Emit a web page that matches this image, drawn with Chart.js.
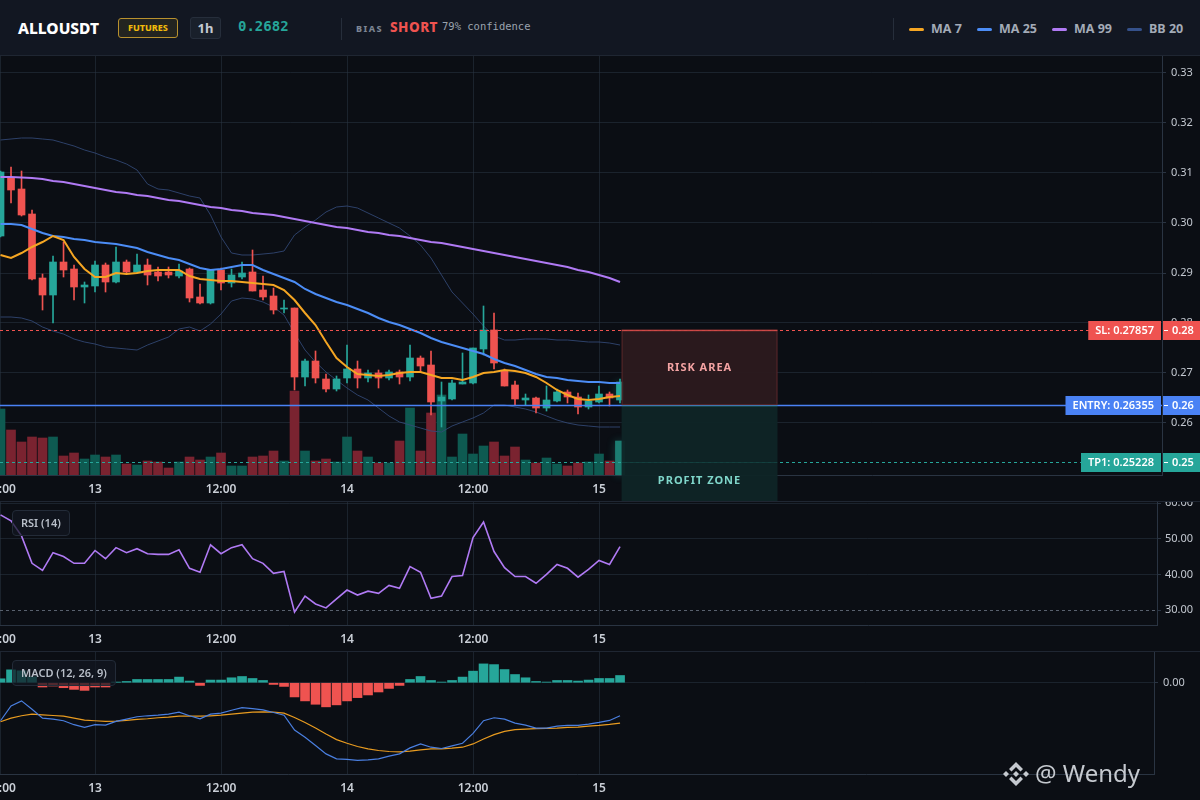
<!DOCTYPE html>
<html>
<head>
<meta charset="utf-8">
<title>ALLOUSDT 1h</title>
<script src="https://cdn.jsdelivr.net/npm/chart.js@4.4.1/dist/chart.umd.min.js"></script>
<style>
  html, body { margin: 0; padding: 0; background: #0b0e14; }
  body { width: 1200px; height: 800px; position: relative; overflow: hidden; font-family: 'Noto Sans', 'Open Sans', sans-serif; }
  #header { position: absolute; left: 0; top: 0; width: 1200px; height: 55px; background: #121722; border-bottom: 1px solid #1f2632; }
  .hi { position: absolute; white-space: nowrap; }
  .pane { position: absolute; left: 0; width: 1200px; }
  .pane canvas { display: block; }
  .sep { border-top: 1px solid #1f2632; }
  .tag { position: absolute; left: 12px; height: 24px; line-height: 24px; padding: 0 8px; font-size: 11px; font-weight: 600; color: #b9bfc9; background: rgba(18, 23, 33, 0.72); border: 1px solid #232b38; border-radius: 4px; }
  .sw { display: inline-block; width: 15px; height: 3px; border-radius: 2px; vertical-align: middle; margin-right: 7px; }
  .lg { position: absolute; top: 20px; font-size: 12.5px; font-weight: 700; color: #a3abb7; }
</style>
</head>
<body>
<div id="header">
  <div class="hi" style="left:18px;top:17px;font-size:15.5px;font-weight:800;color:#fff;">ALLOUSDT</div>
  <div class="hi" style="left:118px;top:18px;width:58px;height:18px;line-height:18px;text-align:center;border:1px solid #b8912e;border-radius:3px;background:rgba(240,185,11,0.08);color:#f0b90b;font-size:9px;font-weight:800;">FUTURES</div>
  <div class="hi" style="left:190px;top:17px;width:29px;height:20px;line-height:20px;text-align:center;border:1px solid #262e3b;border-radius:3px;background:#19202b;color:#c3c9d2;font-size:13px;font-weight:700;">1h</div>
  <div class="hi" style="left:238px;top:18px;font-family:'DejaVu Sans Mono',monospace;font-size:14px;font-weight:700;color:#26a69a;">0.2682</div>
  <div class="hi" style="left:341px;top:18px;width:1px;height:22px;background:#262e3b;"></div>
  <div class="hi" style="left:356px;top:22px;font-size:9px;font-weight:800;letter-spacing:1.5px;color:#7c8593;">BIAS</div>
  <div class="hi" style="left:390px;top:18px;font-size:13.5px;font-weight:800;letter-spacing:0.5px;color:#ef5350;">SHORT</div>
  <div class="hi" style="left:442px;top:20px;font-family:'DejaVu Sans Mono',monospace;font-size:10.5px;color:#9aa3ae;">79% confidence</div>

  <div class="hi" style="left:893px;top:18px;width:1px;height:22px;background:#262e3b;"></div>
  <div class="lg" style="left:909px;"><span class="sw" style="background:#f5a623"></span>MA 7</div>
  <div class="lg" style="left:977px;"><span class="sw" style="background:#4c8df6"></span>MA 25</div>
  <div class="lg" style="left:1052px;"><span class="sw" style="background:#b07af4"></span>MA 99</div>
  <div class="lg" style="left:1127px;"><span class="sw" style="background:#35518a"></span>BB 20</div>
</div>

<div class="pane" style="top:56px;height:445px;"><canvas id="mainChart" width="1200" height="445"></canvas></div>
<div class="pane sep" style="top:501px;height:149px;"><canvas id="rsiChart" width="1200" height="149"></canvas>
  <div class="tag" style="top:8px;">RSI (14)</div>
</div>
<div class="pane sep" style="top:651px;height:149px;"><canvas id="macdChart" width="1200" height="148"></canvas>
  <div class="tag" style="top:8px;">MACD (12, 26, 9)</div>
</div>

<svg style="position:absolute;left:1001px;top:759px;" width="30" height="30" viewBox="0 0 30 30">
  <g fill="#c5c9cf">
    <path d="M15 3 L22 10 L19.5 12.5 L15 8 L10.5 12.5 L8 10 Z"/>
    <path d="M15 27 L22 20 L19.5 17.5 L15 22 L10.5 17.5 L8 20 Z"/>
    <path d="M5 12 L8 15 L5 18 L2 15 Z"/>
    <path d="M25 12 L28 15 L25 18 L22 15 Z"/>
    <path d="M15 12 L18 15 L15 18 L12 15 Z"/>
  </g>
</svg>
<div style="position:absolute;left:1035px;top:756px;font-size:24px;line-height:34px;color:#c5c9cf;">@ Wendy</div>

<script>
// ---- data (hourly candles, index 0..59) ----
const OPEN  = [0.2974, 0.309, 0.3068, 0.3018, 0.289, 0.2856, 0.2922, 0.2908, 0.2872, 0.2874,
               0.2916, 0.2882, 0.2922, 0.2902, 0.2916, 0.2902, 0.2902, 0.2894, 0.2908, 0.2852,
               0.284, 0.2906, 0.288, 0.2892, 0.2902, 0.2866, 0.2854, 0.2828, 0.283, 0.2692,
               0.2724, 0.2688, 0.2668, 0.269, 0.2708, 0.269, 0.27, 0.269, 0.2702, 0.2692,
               0.273, 0.2716, 0.2644, 0.2648, 0.2678, 0.268, 0.2748, 0.2786, 0.2704, 0.2676,
               0.2646, 0.265, 0.263, 0.2644, 0.2662, 0.2652, 0.2632, 0.2642, 0.2658, 0.2646];
const HIGH  = [0.3104, 0.3112, 0.3104, 0.3026, 0.2898, 0.2934, 0.2962, 0.2916, 0.2882, 0.2924,
               0.292, 0.2952, 0.2926, 0.2938, 0.2928, 0.2912, 0.2912, 0.2918, 0.291, 0.2878,
               0.2906, 0.291, 0.2908, 0.2922, 0.2946, 0.2894, 0.287, 0.2846, 0.283, 0.2728,
               0.2744, 0.2698, 0.2694, 0.2756, 0.2724, 0.2706, 0.2706, 0.2706, 0.2706, 0.2756,
               0.2734, 0.2744, 0.2682, 0.2686, 0.274, 0.275, 0.2834, 0.282, 0.2708, 0.2684,
               0.2658, 0.2652, 0.2674, 0.2668, 0.2666, 0.266, 0.2656, 0.2674, 0.2662, 0.2688];
const LOW   = [0.2972, 0.304, 0.3014, 0.2886, 0.2826, 0.28, 0.2892, 0.2846, 0.284, 0.2862,
               0.2862, 0.288, 0.29, 0.29, 0.2876, 0.2884, 0.289, 0.289, 0.2842, 0.2838,
               0.2838, 0.2866, 0.2872, 0.2888, 0.2864, 0.2846, 0.2818, 0.282, 0.2666, 0.2674,
               0.268, 0.2662, 0.2664, 0.268, 0.267, 0.2682, 0.267, 0.2686, 0.2678, 0.2684,
               0.2702, 0.2616, 0.2592, 0.2646, 0.2678, 0.2678, 0.2736, 0.2708, 0.2674, 0.2636,
               0.2636, 0.262, 0.2624, 0.2642, 0.264, 0.2618, 0.2628, 0.264, 0.2634, 0.264];
const CLOSE = [0.3102, 0.3066, 0.3016, 0.2888, 0.2856, 0.2922, 0.2906, 0.2872, 0.2876, 0.2916,
               0.2882, 0.2922, 0.2902, 0.2916, 0.2896, 0.2894, 0.2896, 0.2904, 0.285, 0.284,
               0.2906, 0.288, 0.2896, 0.29, 0.2864, 0.2852, 0.2826, 0.283, 0.2692, 0.2724,
               0.269, 0.2668, 0.2688, 0.2708, 0.269, 0.27, 0.269, 0.2702, 0.2692, 0.273,
               0.2714, 0.2642, 0.2652, 0.268, 0.2682, 0.275, 0.2786, 0.272, 0.2674, 0.2648,
               0.265, 0.263, 0.2646, 0.2662, 0.2652, 0.2632, 0.2644, 0.2658, 0.265, 0.2682];
const VOLUME = [66, 45, 33, 38, 37, 38, 19, 22, 16, 20, 18, 20, 11, 10, 14, 13, 7, 13, 18, 15,
                18, 22, 9, 9, 18, 19, 24, 14, 84, 24, 14, 16, 13, 38, 24, 18, 12, 12, 34, 67,
                24, 62, 80, 18, 41, 21, 29, 33, 19, 28, 15, 12, 17, 11, 9, 12, 13, 21, 14, 34];

const MA7  = [0.2936, 0.293, 0.294, 0.2952, 0.2962, 0.2974, 0.2966, 0.2932, 0.2908, 0.2892,
              0.2892, 0.29, 0.2898, 0.29, 0.2904, 0.2906, 0.2906, 0.2906, 0.2894, 0.2888,
              0.2886, 0.2884, 0.2884, 0.2882, 0.288, 0.2878, 0.2876, 0.2866, 0.2846, 0.282,
              0.2796, 0.2762, 0.273, 0.2712, 0.2698, 0.2696, 0.2694, 0.2696, 0.27, 0.2702,
              0.2702, 0.2696, 0.269, 0.269, 0.2686, 0.2692, 0.27, 0.2702, 0.2706, 0.2704,
              0.27, 0.2692, 0.268, 0.2666, 0.2656, 0.2648, 0.2646, 0.2648, 0.2652, 0.2654];
const MA25 = [0.2998, 0.2998, 0.2996, 0.2988, 0.298, 0.2974, 0.2972, 0.2968, 0.2966, 0.2962,
              0.296, 0.2958, 0.2954, 0.295, 0.2942, 0.2936, 0.293, 0.2926, 0.2918, 0.291,
              0.2906, 0.2908, 0.2912, 0.2916, 0.2916, 0.2906, 0.2898, 0.289, 0.2882, 0.2868,
              0.2858, 0.285, 0.2842, 0.2836, 0.2828, 0.282, 0.281, 0.2802, 0.2796, 0.2788,
              0.278, 0.277, 0.2762, 0.2756, 0.275, 0.2744, 0.2738, 0.2728, 0.272, 0.2714,
              0.2706, 0.2698, 0.2692, 0.269, 0.2686, 0.2684, 0.2682, 0.2682, 0.268, 0.268];
const MA99 = [0.3092, 0.3092, 0.3091, 0.309, 0.3088, 0.3084, 0.3082, 0.3078, 0.3074, 0.307,
              0.3066, 0.3062, 0.306, 0.3056, 0.3054, 0.305, 0.3046, 0.3044, 0.304, 0.3036,
              0.3032, 0.303, 0.3026, 0.3024, 0.302, 0.3018, 0.3016, 0.3012, 0.3008, 0.3004,
              0.30, 0.2996, 0.2992, 0.299, 0.2986, 0.2982, 0.298, 0.2976, 0.2974, 0.297,
              0.2966, 0.2962, 0.296, 0.2956, 0.2952, 0.2948, 0.2944, 0.294, 0.2936, 0.2932,
              0.2928, 0.2924, 0.292, 0.2916, 0.2912, 0.2906, 0.2902, 0.2896, 0.289, 0.2882];
const BB_UPPER = [0.3166, 0.3168, 0.317, 0.317, 0.3168, 0.3166, 0.316, 0.3154, 0.3146, 0.314,
                  0.3132, 0.3126, 0.3118, 0.3106, 0.3078, 0.3068, 0.3066, 0.306, 0.3054, 0.305,
                  0.3016, 0.2972, 0.294, 0.2936, 0.2936, 0.2938, 0.294, 0.2944, 0.2976, 0.2992,
                  0.3006, 0.3022, 0.3032, 0.3034, 0.303, 0.302, 0.301, 0.30, 0.299, 0.2974,
                  0.2956, 0.293, 0.2896, 0.2862, 0.284, 0.2818, 0.2794, 0.2774, 0.2766, 0.2766,
                  0.2768, 0.2768, 0.2768, 0.2766, 0.2766, 0.2764, 0.2762, 0.2762, 0.276, 0.2756];
const BB_LOWER = [0.2812, 0.2812, 0.281, 0.2804, 0.2792, 0.2784, 0.2778, 0.2768, 0.2762, 0.2758,
                  0.2752, 0.275, 0.2748, 0.2746, 0.2756, 0.2764, 0.2772, 0.2788, 0.2792, 0.2784,
                  0.2798, 0.2818, 0.2844, 0.285, 0.2848, 0.2842, 0.2832, 0.2816, 0.278, 0.2746,
                  0.2722, 0.2702, 0.2686, 0.267, 0.2656, 0.2646, 0.263, 0.2614, 0.2602, 0.2596,
                  0.259, 0.2584, 0.2582, 0.2594, 0.2602, 0.261, 0.262, 0.2636, 0.2636, 0.2632,
                  0.2628, 0.2622, 0.2614, 0.2606, 0.26, 0.2596, 0.2594, 0.2592, 0.2592, 0.2592];

const RSI = [56.7, 55, 50.8, 43.1, 41.1, 46.1, 45, 43.1, 43.1, 46.7,
             44.4, 47.5, 46.1, 47.2, 45.8, 45.6, 45.6, 46.9, 41.7, 40.6,
             48.3, 45.8, 47.5, 48.3, 44.4, 43.1, 40.3, 40.8, 29.4, 33.9,
             31.7, 30.6, 33.1, 35.6, 34.2, 35.3, 34.7, 36.9, 36.1, 42.2,
             40.6, 33.3, 33.9, 39.4, 39.7, 50.3, 54.7, 46.4, 41.9, 39.4,
             39.4, 37.5, 40, 42.8, 41.7, 39.2, 41.4, 43.9, 42.8, 47.8];

const MACD_HIST = [0.0004, 0.0013, 0.0012, 0.0006, -0.00043, -0.00033, -0.0005, -0.00067, -0.00077, -0.00043,
                   -0.00043, 0.00007, 0.00013, 0.00033, 0.00033, 0.00033, 0.00033, 0.00057, 0.00017, -0.00027,
                   0.00027, 0.00027, 0.0005, 0.00063, 0.00043, 0.00023, -0.00017, -0.00037, -0.00143, -0.00183,
                   -0.00217, -0.00243, -0.00223, -0.00183, -0.0015, -0.00123, -0.00093, -0.00057, -0.00027, 0.00033,
                   0.00063, 0.00023, 0.00007, 0.00023, 0.00057, 0.00117, 0.0019, 0.00183, 0.00133, 0.00083,
                   0.0005, 0.00013, 0.00007, 0.00023, 0.00023, 0.00017, 0.00027, 0.00043, 0.00043, 0.00073];
const MACD_LINE = [-0.00383, -0.00233, -0.00183, -0.00267, -0.00357, -0.00367, -0.00383, -0.00423, -0.0045, -0.00423,
                   -0.00427, -0.0039, -0.00367, -0.00343, -0.00333, -0.00327, -0.00317, -0.00297, -0.00333, -0.00363,
                   -0.00317, -0.00307, -0.00277, -0.0025, -0.0026, -0.00273, -0.003, -0.00327, -0.00477, -0.0055,
                   -0.00633, -0.00717, -0.00767, -0.00773, -0.00783, -0.00777, -0.00767, -0.0074, -0.00717, -0.00657,
                   -0.00617, -0.0065, -0.00663, -0.00637, -0.0061, -0.0051, -0.00383, -0.00353, -0.00367, -0.00407,
                   -0.00427, -0.00457, -0.00457, -0.00437, -0.0043, -0.0043, -0.00417, -0.004, -0.0038, -0.00333];
const MACD_SIGNAL = [-0.00393, -0.00357, -0.00333, -0.00317, -0.00323, -0.0033, -0.00337, -0.00357, -0.00377, -0.00383,
                     -0.0039, -0.00387, -0.0038, -0.0037, -0.00363, -0.00353, -0.00347, -0.00337, -0.00337, -0.00337,
                     -0.00333, -0.00327, -0.00317, -0.00307, -0.00297, -0.00293, -0.00297, -0.00307, -0.0035, -0.004,
                     -0.00457, -0.00517, -0.00573, -0.0061, -0.00643, -0.00667, -0.00683, -0.00693, -0.00697, -0.0069,
                     -0.00677, -0.00667, -0.00667, -0.0066, -0.0065, -0.00617, -0.00567, -0.00523, -0.0049, -0.00473,
                     -0.00467, -0.00463, -0.0046, -0.00457, -0.0045, -0.00447, -0.00437, -0.0043, -0.0042, -0.00407];

// time axis labels (candle index -> label)
const X_TICK_POS = [0, 9, 21, 33, 45, 57];
const X_TICK_LABELS = ['12:00', '13', '12:00', '14', '12:00', '15'];

// trade plan
const LEVELS = [
    { name: 'SL', price: 0.27857, color: '#ef5350', dash: [3, 3], width: 1 },
    { name: 'ENTRY', price: 0.26355, color: '#4a82f5', dash: [], width: 1.4 },
    { name: 'TP1', price: 0.25228, color: '#26a69a', dash: [3, 3], width: 1 }
];
const ZONE_START = 59.15;
const ZONE_END = 74;
const PROFIT_FLOOR = 0.2444;
const RSI_OVERSOLD = 30;

// ---- styling ----
const TEAL = '#26a69a';
const RED = '#ef5350';
const GRID = 'rgba(42, 52, 66, 0.55)';
const AXIS = '#2a3442';
const TICK_TXT = '#c3c8d0';
Chart.defaults.font.family = "'Noto Sans', 'Open Sans', sans-serif";

const idx = OPEN.map((_, i) => i);
const isUp = i => CLOSE[i] >= OPEN[i];
const lastIdx = idx.length - 1;

function xAxis(max) {
    return {
        type: 'linear', min: -0.05, max: max, offset: false,
        grid: { color: GRID, drawTicks: false, offset: false },
        border: { color: AXIS },
        afterBuildTicks: s => { s.ticks = X_TICK_POS.map(v => ({ value: v })); },
        afterFit: s => { s.height = 26; s.paddingLeft = 0; s.paddingRight = 0; },
        ticks: {
            autoSkip: false, maxRotation: 0, padding: 7,
            color: '#c9ced6', font: { size: 12, weight: '600' },
            callback: v => X_TICK_LABELS[X_TICK_POS.indexOf(v)] ?? ''
        }
    };
}

function yAxis(width, extra) {
    return Object.assign({
        position: 'right',
        grid: { color: GRID, tickColor: AXIS, tickLength: 4 },
        border: { color: AXIS },
        afterFit: s => { s.width = width; s.paddingTop = 0; s.paddingBottom = 0; },
        ticks: { includeBounds: false, padding: 4, color: TICK_TXT, font: { size: 11 } }
    }, extra);
}

const baseOptions = {
    responsive: false,
    animation: false,
    events: [],
    layout: { padding: 0 },
    plugins: { legend: { display: false }, tooltip: { enabled: false } }
};

function line(data, color, width, order) {
    return {
        type: 'line', data: idx.map(i => ({ x: i, y: data[i] })),
        borderColor: color, borderWidth: width, pointRadius: 0, tension: 0, order: order
    };
}

// soft glow behind the live (last) candle and its volume bar
const liveGlow = {
    id: 'liveGlow',
    beforeDatasetsDraw(chart) {
        const { ctx, scales: { x, y, yVol } } = chart;
        const px = x.getPixelForValue(lastIdx);
        ctx.save();
        ctx.shadowColor = 'rgba(38, 166, 154, 0.9)';
        ctx.shadowBlur = 8;
        ctx.fillStyle = 'rgba(38, 166, 154, 0.35)';
        const top = y.getPixelForValue(CLOSE[lastIdx]);
        const bot = y.getPixelForValue(OPEN[lastIdx]);
        ctx.fillRect(px - 4, top, 8, bot - top);
        const vTop = yVol.getPixelForValue(VOLUME[lastIdx]);
        ctx.fillRect(px - 5, vTop, 10, yVol.getPixelForValue(0) - vTop);
        ctx.restore();
    }
};

// ---- trade levels, zones and price tags on the main chart ----
const tradePlan = {
    id: 'tradePlan',
    afterDatasetsDraw(chart) {
        const { ctx, chartArea, scales: { x, y } } = chart;
        ctx.save();
        LEVELS.forEach(l => {
            const py = Math.round(y.getPixelForValue(l.price)) + 0.5;
            ctx.strokeStyle = l.color;
            ctx.lineWidth = l.width;
            ctx.setLineDash(l.dash);
            ctx.beginPath();
            ctx.moveTo(chartArea.left, py);
            ctx.lineTo(chartArea.right, py);
            ctx.stroke();
        });
        ctx.setLineDash([]);

        const x0 = x.getPixelForValue(ZONE_START);
        const x1 = x.getPixelForValue(ZONE_END);
        const ySL = y.getPixelForValue(LEVELS[0].price);
        const yEn = y.getPixelForValue(LEVELS[1].price);
        const yTp = y.getPixelForValue(LEVELS[2].price);
        const yFl = y.getPixelForValue(PROFIT_FLOOR);

        // risk area
        ctx.fillStyle = 'rgba(44, 26, 30, 0.96)';
        ctx.fillRect(x0, ySL, x1 - x0, yEn - ySL);
        ctx.strokeStyle = 'rgba(239, 83, 80, 0.25)';
        ctx.strokeRect(x0 + 0.5, ySL + 0.5, x1 - x0 - 1, yEn - ySL - 1);
        ctx.fillStyle = 'rgba(239, 83, 80, 0.75)';
        ctx.fillRect(x0, ySL - 0.5, x1 - x0, 1.5);

        // profit zone
        ctx.fillStyle = 'rgba(15, 36, 38, 0.96)';
        ctx.fillRect(x0, yEn + 1, x1 - x0, yFl - yEn);
        ctx.fillStyle = 'rgba(38, 166, 154, 0.35)';
        ctx.fillRect(x0, yEn, x1 - x0, 1.5);
        ctx.fillStyle = 'rgba(38, 166, 154, 0.18)';
        ctx.fillRect(x0, Math.round(yTp), x1 - x0, 1);

        ctx.font = "700 11px 'Noto Sans', sans-serif";
        ctx.letterSpacing = '1px';
        ctx.textAlign = 'center';
        ctx.textBaseline = 'middle';
        ctx.fillStyle = '#f4a3a3';
        ctx.fillText('RISK AREA', (x0 + x1) / 2, (ySL + yEn) / 2);
        ctx.fillStyle = '#7fd6ca';
        ctx.fillText('PROFIT ZONE', (x0 + x1) / 2, (yTp + yFl) / 2);
        ctx.restore();
    },
    afterDraw(chart) {
        const { ctx, chartArea, width, scales: { y } } = chart;
        ctx.save();
        ctx.font = "600 11px 'Noto Sans', sans-serif";
        ctx.textBaseline = 'middle';
        LEVELS.forEach(l => {
            const py = Math.round(y.getPixelForValue(l.price));
            const text = `${l.name}: ${l.price.toFixed(5)}`;
            const tw = ctx.measureText(text).width + 14;
            ctx.fillStyle = l.color;
            ctx.fillRect(chartArea.right - 1 - tw, py - 9, tw, 19);
            ctx.fillRect(chartArea.right + 1, py - 9, width - chartArea.right, 19);
            ctx.fillStyle = '#ffffff';
            ctx.textAlign = 'left';
            ctx.fillText(text, chartArea.right - 1 - tw + 7, py + 0.5);
            ctx.fillText(l.price.toFixed(2), chartArea.right + 10, py + 0.5);
            ctx.fillRect(chartArea.right + 2, py, 4, 1);
        });
        ctx.restore();
    }
};

function buildMainChart() {
    const ctx = document.getElementById('mainChart').getContext('2d');
    new Chart(ctx, {
        type: 'bar',
        data: {
            datasets: [
                line(MA7, '#f5a623', 2, 1),
                line(MA25, '#4c8df6', 2, 2),
                line(MA99, '#b07af4', 2, 3),
                {
                    type: 'bar', data: idx.map(i => ({ x: i, y: [OPEN[i], CLOSE[i]] })),
                    backgroundColor: c => isUp(c.dataIndex) ? TEAL : RED,
                    barThickness: 7, minBarLength: 1, grouped: false, order: 4
                },
                {
                    type: 'bar', data: idx.map(i => ({ x: i, y: [LOW[i], HIGH[i]] })),
                    backgroundColor: c => isUp(c.dataIndex) ? TEAL : RED,
                    barThickness: 1, grouped: false, order: 5
                },
                line(BB_UPPER, 'rgba(52, 74, 120, 0.85)', 1, 6),
                line(BB_LOWER, 'rgba(52, 74, 120, 0.85)', 1, 7),
                {
                    type: 'bar', yAxisID: 'yVol', data: idx.map(i => ({ x: i, y: VOLUME[i] })),
                    backgroundColor: c => c.dataIndex === lastIdx ? '#1c7d72' : (isUp(c.dataIndex) ? '#0e5a51' : '#7a2330'),
                    barThickness: 9, grouped: false, order: 10
                }
            ]
        },
        options: Object.assign({}, baseOptions, {
            scales: {
                x: xAxis(110.62),
                y: yAxis(38, {
                    min: 0.2496, max: 0.3334, beginAtZero: false,
                    afterBuildTicks: s => { s.ticks = s.ticks.filter(t => t.value > 0.2505); },
                    ticks: { includeBounds: false, stepSize: 0.01, padding: 5, color: TICK_TXT, font: { size: 11 }, callback: v => v.toFixed(2) }
                }),
                yVol: { display: false, min: 0, max: 419, beginAtZero: true }
            }
        }),
        plugins: [liveGlow, tradePlan]
    });
}

const rsiGuide = {
    id: 'rsiGuide',
    beforeDatasetsDraw(chart) {
        const { ctx, chartArea, scales: { y } } = chart;
        const py = Math.round(y.getPixelForValue(RSI_OVERSOLD)) + 0.5;
        ctx.save();
        ctx.strokeStyle = '#59616e';
        ctx.setLineDash([3, 3]);
        ctx.beginPath();
        ctx.moveTo(chartArea.left, py);
        ctx.lineTo(chartArea.right, py);
        ctx.stroke();
        ctx.restore();
    }
};

function buildRsiChart() {
    const ctx = document.getElementById('rsiChart').getContext('2d');
    new Chart(ctx, {
        type: 'line',
        data: { datasets: [line(RSI, '#b07af4', 1.6, 1)] },
        options: Object.assign({}, baseOptions, {
            scales: {
                x: xAxis(110.14),
                y: yAxis(43, {
                    min: 25.8, max: 60.3,
                    grid: { color: c => c.tick && c.tick.value === RSI_OVERSOLD ? 'transparent' : GRID, tickColor: AXIS, tickLength: 4 },
                    ticks: { includeBounds: false, stepSize: 10, padding: 4, color: TICK_TXT, font: { size: 11 }, callback: v => v.toFixed(2) }
                })
            }
        }),
        plugins: [rsiGuide]
    });
}

function buildMacdChart() {
    const ctx = document.getElementById('macdChart').getContext('2d');
    new Chart(ctx, {
        type: 'bar',
        data: {
            datasets: [
                line(MACD_LINE, '#4a7fe0', 1.2, 1),
                line(MACD_SIGNAL, '#e89b20', 1.2, 2),
                {
                    type: 'bar', data: idx.map(i => ({ x: i, y: MACD_HIST[i] })),
                    backgroundColor: c => MACD_HIST[c.dataIndex] >= 0 ? TEAL : RED,
                    barThickness: 9, grouped: false, order: 3
                }
            ]
        },
        options: Object.assign({}, baseOptions, {
            scales: {
                x: xAxis(109.85),
                y: yAxis(46, {
                    min: -0.0092, max: 0.0031, beginAtZero: false,
                    ticks: { includeBounds: false, stepSize: 0.01, padding: 5, color: TICK_TXT, font: { size: 11 }, callback: v => Math.abs(v) < 1e-9 ? '0.00' : '' }
                })
            }
        })
    });
}

buildMainChart();
buildRsiChart();
buildMacdChart();
</script>
</body>
</html>
